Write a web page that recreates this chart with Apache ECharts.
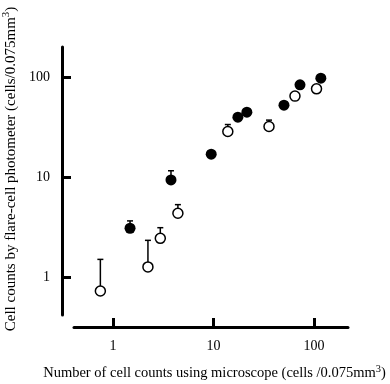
<!DOCTYPE html>
<html><head><meta charset="utf-8">
<script src="https://cdn.jsdelivr.net/npm/echarts@6/dist/echarts.min.js"></script>
<style>html,body{margin:0;padding:0;background:#fff}#c{width:390px;height:384px}</style>
</head><body><div id="c"></div>
<script>
// Filled circles: [microscope count, photometer count, error-bar top]
const filledX = [1.48, 3.78, 9.5, 17.5, 21.5, 50.3, 72.6, 117];
const filledY = [3.09, 9.4, 17.0, 39.8, 44.7, 52.5, 83.8, 97.7];
const filledErr = [3.66, 11.6, null, null, null, null, null, null];
// Open circles
const openX = [0.75, 2.23, 2.96, 4.43, 13.9, 35.7, 64.7, 106];
const openY = [0.73, 1.27, 2.45, 4.37, 28.6, 32.1, 64.6, 76.4];
const openErr = [1.51, 2.34, 3.13, 5.32, 33.6, 37.2, null, null];
const tickValues = [1, 10, 100];

const font = 'Liberation Serif';
const filledData = filledX.map((x, i) => [x, filledY[i]]);
const openData = openX.map((x, i) => [x, openY[i]]);
const errData = [];
filledX.forEach((x, i) => { if (filledErr[i] != null) errData.push([x, filledY[i], filledErr[i]]); });
openX.forEach((x, i) => { if (openErr[i] != null) errData.push([x, openY[i], openErr[i]]); });

function nameStyle(size, padding) {
  return {color: '#000', fontFamily: font, fontSize: size, padding: padding,
    rich: {t: {fontFamily: font, fontSize: size, color: '#000'},
           s: {fontFamily: font, fontSize: size * 0.72, color: '#000', verticalAlign: 'bottom', padding: [0, 0, 8, 0]}}};
}

const chart = echarts.init(document.getElementById('c'), null, {renderer: 'canvas'});
const axisCommon = {
  type: 'log', logBase: 10, offset: 12,
  axisLine: {show: true, lineStyle: {color: '#000', width: 3}},
  axisTick: {show: true, inside: true, length: 9, lineStyle: {color: '#000', width: 3}, customValues: tickValues},
  axisLabel: {color: '#000', fontFamily: font, fontSize: 14, margin: 12, customValues: tickValues,
    formatter: v => String(Math.round(v))},
  splitLine: {show: false}, minorTick: {show: false},
  nameLocation: 'middle'
};
chart.setOption({
  animation: false,
  grid: {left: 74, right: 42, top: 47, bottom: 69, containLabel: false, outerBoundsMode: 'none'},
  xAxis: Object.assign({}, axisCommon, {min: 0.41, max: 218, nameGap: 37,
    name: '{t|Number of cell counts using microscope (cells /0.075mm}{s|3}{t|)}',
    nameTextStyle: nameStyle(14.5, [0, 0, 0, 7])}),
  yAxis: Object.assign({}, axisCommon, {min: 0.42, max: 200, nameGap: 40,
    name: '{t|Cell counts by flare-cell photometer (cells/0.075mm}{s|3}{t|)}',
    nameTextStyle: nameStyle(15, [0, 0, 0, 24])}),
  series: [
    {type: 'custom', data: errData, z: 1,
      renderItem: (params, api) => {
        const p = api.coord([api.value(0), api.value(1)]);
        const t = api.coord([api.value(0), api.value(2)]);
        const st = {stroke: '#000', lineWidth: 1.5};
        return {type: 'group', children: [
          {type: 'line', shape: {x1: p[0], y1: p[1], x2: t[0], y2: t[1]}, style: st},
          {type: 'line', shape: {x1: t[0] - 3, y1: t[1], x2: t[0] + 3, y2: t[1]}, style: st}
        ]};
      }},
    {type: 'scatter', data: openData, symbol: 'circle', symbolSize: 10, z: 3,
      itemStyle: {color: '#fff', borderColor: '#000', borderWidth: 1.5, opacity: 1}},
    {type: 'scatter', data: filledData, symbol: 'circle', symbolSize: 11, z: 3,
      itemStyle: {color: '#000', borderColor: '#000', borderWidth: 0, opacity: 1}}
  ]
});
</script></body></html>
